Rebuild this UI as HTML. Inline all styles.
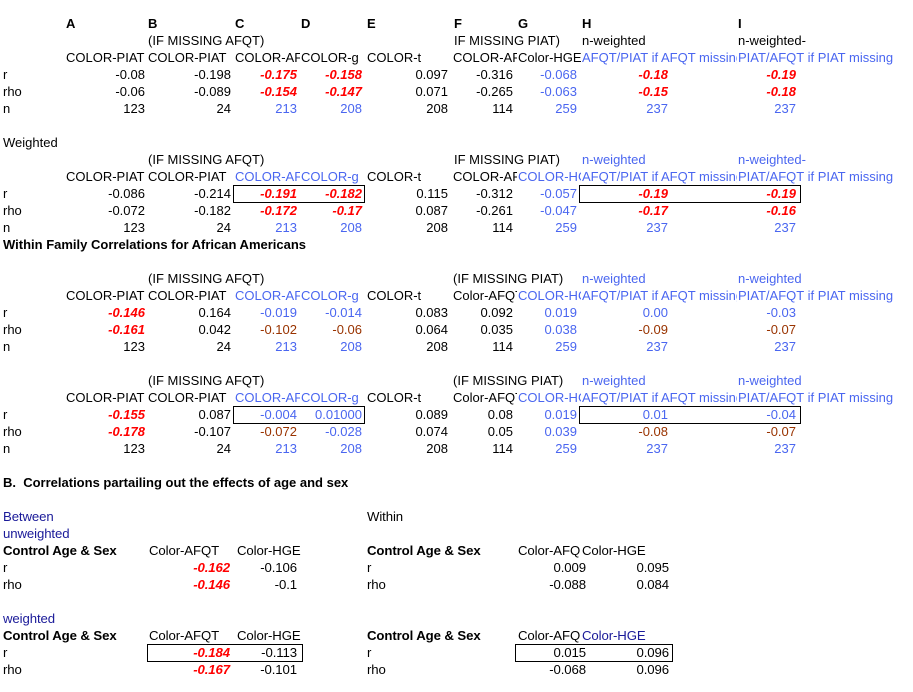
<!DOCTYPE html>
<html><head><meta charset="utf-8"><style>
body{margin:0;width:913px;height:692px;background:#fff;position:relative;overflow:hidden;font-family:"Liberation Sans",Arial,sans-serif;font-size:13px;color:#000}
.t{position:absolute;white-space:nowrap;line-height:16px}
.c{position:absolute;white-space:nowrap;line-height:16px;overflow:hidden}
.b{color:#4a66f0}.rd{color:#ff0000;font-weight:bold;font-style:italic}.br{color:#993300}.nv{color:#1a1a99}
.bo{font-weight:bold}
.box{position:absolute;border:1px solid #000;height:16px}
.n{font-size:13.2px;letter-spacing:-0.1px}
</style></head><body>
<!-- column letters -->
<div class="t bo" style="left:66px;top:16px">A</div>
<div class="t bo" style="left:148px;top:16px">B</div>
<div class="t bo" style="left:235px;top:16px">C</div>
<div class="t bo" style="left:301px;top:16px">D</div>
<div class="t bo" style="left:367px;top:16px">E</div>
<div class="t bo" style="left:454px;top:16px">F</div>
<div class="t bo" style="left:518px;top:16px">G</div>
<div class="t bo" style="left:582px;top:16px">H</div>
<div class="t bo" style="left:738px;top:16px">I</div>

<!-- Block 1 -->
<div class="t" style="left:148px;top:33px">(IF MISSING AFQT)</div>
<div class="t" style="left:454px;top:33px">IF MISSING PIAT)</div>
<div class="t" style="left:582px;top:33px">n-weighted</div>
<div class="t" style="left:738px;top:33px">n-weighted-</div>
<div class="t" style="left:66px;top:50px">COLOR-PIAT</div>
<div class="t" style="left:148px;top:50px">COLOR-PIAT</div>
<div class="c" style="left:235px;top:50px;width:65px">COLOR-AFQT</div>
<div class="t" style="left:301px;top:50px">COLOR-g</div>
<div class="t" style="left:367px;top:50px">COLOR-t</div>
<div class="c" style="left:453px;top:50px;width:64px">COLOR-AFQT</div>
<div class="c" style="left:518px;top:50px;width:63px">Color-HGE</div>
<div class="c b" style="left:582px;top:50px;width:155px">AFQT/PIAT if AFQT missing</div>
<div class="t b" style="left:738px;top:50px">PIAT/AFQT if PIAT missing</div>
<div class="t" style="left:3px;top:67px">r</div>
<div class="t" style="right:768px;top:67px">-0.08</div>
<div class="t" style="right:682px;top:67px">-0.198</div>
<div class="t rd" style="right:616px;top:67px">-0.175</div>
<div class="t rd" style="right:551px;top:67px">-0.158</div>
<div class="t" style="right:465px;top:67px">0.097</div>
<div class="t" style="right:400px;top:67px">-0.316</div>
<div class="t b" style="right:336px;top:67px">-0.068</div>
<div class="t rd" style="right:245px;top:67px">-0.18</div>
<div class="t rd" style="right:117px;top:67px">-0.19</div>
<div class="t" style="left:3px;top:84px">rho</div>
<div class="t" style="right:768px;top:84px">-0.06</div>
<div class="t" style="right:682px;top:84px">-0.089</div>
<div class="t rd" style="right:616px;top:84px">-0.154</div>
<div class="t rd" style="right:551px;top:84px">-0.147</div>
<div class="t" style="right:465px;top:84px">0.071</div>
<div class="t" style="right:400px;top:84px">-0.265</div>
<div class="t b" style="right:336px;top:84px">-0.063</div>
<div class="t rd" style="right:245px;top:84px">-0.15</div>
<div class="t rd" style="right:117px;top:84px">-0.18</div>
<div class="t" style="left:3px;top:101px">n</div>
<div class="t" style="right:768px;top:101px">123</div>
<div class="t" style="right:682px;top:101px">24</div>
<div class="t b" style="right:616px;top:101px">213</div>
<div class="t b" style="right:551px;top:101px">208</div>
<div class="t" style="right:465px;top:101px">208</div>
<div class="t" style="right:400px;top:101px">114</div>
<div class="t b" style="right:336px;top:101px">259</div>
<div class="t b" style="right:245px;top:101px">237</div>
<div class="t b" style="right:117px;top:101px">237</div>

<!-- Block 2 Weighted -->
<div class="t" style="left:3px;top:135px">Weighted</div>
<div class="t" style="left:148px;top:152px">(IF MISSING AFQT)</div>
<div class="t" style="left:454px;top:152px">IF MISSING PIAT)</div>
<div class="t b" style="left:582px;top:152px">n-weighted</div>
<div class="t b" style="left:738px;top:152px">n-weighted-</div>
<div class="t" style="left:66px;top:169px">COLOR-PIAT</div>
<div class="t" style="left:148px;top:169px">COLOR-PIAT</div>
<div class="c b" style="left:235px;top:169px;width:65px">COLOR-AFQT</div>
<div class="t b" style="left:301px;top:169px">COLOR-g</div>
<div class="t" style="left:367px;top:169px">COLOR-t</div>
<div class="c" style="left:453px;top:169px;width:64px">COLOR-AFQT</div>
<div class="c b" style="left:518px;top:169px;width:63px">COLOR-HGE</div>
<div class="c b" style="left:582px;top:169px;width:155px">AFQT/PIAT if AFQT missing</div>
<div class="t b" style="left:738px;top:169px">PIAT/AFQT if PIAT missing</div>
<div class="box" style="left:233px;top:185px;width:130px"></div>
<div class="box" style="left:579px;top:185px;width:220px"></div>
<div class="t" style="left:3px;top:186px">r</div>
<div class="t" style="right:768px;top:186px">-0.086</div>
<div class="t" style="right:682px;top:186px">-0.214</div>
<div class="t rd" style="right:616px;top:186px">-0.191</div>
<div class="t rd" style="right:551px;top:186px">-0.182</div>
<div class="t" style="right:465px;top:186px">0.115</div>
<div class="t" style="right:400px;top:186px">-0.312</div>
<div class="t b" style="right:336px;top:186px">-0.057</div>
<div class="t rd" style="right:245px;top:186px">-0.19</div>
<div class="t rd" style="right:117px;top:186px">-0.19</div>
<div class="t" style="left:3px;top:203px">rho</div>
<div class="t" style="right:768px;top:203px">-0.072</div>
<div class="t" style="right:682px;top:203px">-0.182</div>
<div class="t rd" style="right:616px;top:203px">-0.172</div>
<div class="t rd" style="right:551px;top:203px">-0.17</div>
<div class="t" style="right:465px;top:203px">0.087</div>
<div class="t" style="right:400px;top:203px">-0.261</div>
<div class="t b" style="right:336px;top:203px">-0.047</div>
<div class="t rd" style="right:245px;top:203px">-0.17</div>
<div class="t rd" style="right:117px;top:203px">-0.16</div>
<div class="t" style="left:3px;top:220px">n</div>
<div class="t" style="right:768px;top:220px">123</div>
<div class="t" style="right:682px;top:220px">24</div>
<div class="t b" style="right:616px;top:220px">213</div>
<div class="t b" style="right:551px;top:220px">208</div>
<div class="t" style="right:465px;top:220px">208</div>
<div class="t" style="right:400px;top:220px">114</div>
<div class="t b" style="right:336px;top:220px">259</div>
<div class="t b" style="right:245px;top:220px">237</div>
<div class="t b" style="right:117px;top:220px">237</div>

<!-- Within -->
<div class="t bo" style="left:3px;top:237px">Within Family Correlations for African Americans</div>
<div class="t" style="left:148px;top:271px">(IF MISSING AFQT)</div>
<div class="t" style="left:453px;top:271px">(IF MISSING PIAT)</div>
<div class="t b" style="left:582px;top:271px">n-weighted</div>
<div class="t b" style="left:738px;top:271px">n-weighted</div>
<div class="t" style="left:66px;top:288px">COLOR-PIAT</div>
<div class="t" style="left:148px;top:288px">COLOR-PIAT</div>
<div class="c b" style="left:235px;top:288px;width:65px">COLOR-AFQT</div>
<div class="t b" style="left:301px;top:288px">COLOR-g</div>
<div class="t" style="left:367px;top:288px">COLOR-t</div>
<div class="c" style="left:453px;top:288px;width:64px">Color-AFQT</div>
<div class="c b" style="left:518px;top:288px;width:63px">COLOR-HGE</div>
<div class="c b" style="left:582px;top:288px;width:155px">AFQT/PIAT if AFQT missing</div>
<div class="t b" style="left:738px;top:288px">PIAT/AFQT if PIAT missing</div>
<div class="t" style="left:3px;top:305px">r</div>
<div class="t rd" style="right:768px;top:305px">-0.146</div>
<div class="t" style="right:682px;top:305px">0.164</div>
<div class="t b" style="right:616px;top:305px">-0.019</div>
<div class="t b" style="right:551px;top:305px">-0.014</div>
<div class="t" style="right:465px;top:305px">0.083</div>
<div class="t" style="right:400px;top:305px">0.092</div>
<div class="t b" style="right:336px;top:305px">0.019</div>
<div class="t b" style="right:245px;top:305px">0.00</div>
<div class="t b" style="right:117px;top:305px">-0.03</div>
<div class="t" style="left:3px;top:322px">rho</div>
<div class="t rd" style="right:768px;top:322px">-0.161</div>
<div class="t" style="right:682px;top:322px">0.042</div>
<div class="t br" style="right:616px;top:322px">-0.102</div>
<div class="t br" style="right:551px;top:322px">-0.06</div>
<div class="t" style="right:465px;top:322px">0.064</div>
<div class="t" style="right:400px;top:322px">0.035</div>
<div class="t b" style="right:336px;top:322px">0.038</div>
<div class="t br" style="right:245px;top:322px">-0.09</div>
<div class="t br" style="right:117px;top:322px">-0.07</div>
<div class="t" style="left:3px;top:339px">n</div>
<div class="t" style="right:768px;top:339px">123</div>
<div class="t" style="right:682px;top:339px">24</div>
<div class="t b" style="right:616px;top:339px">213</div>
<div class="t b" style="right:551px;top:339px">208</div>
<div class="t" style="right:465px;top:339px">208</div>
<div class="t" style="right:400px;top:339px">114</div>
<div class="t b" style="right:336px;top:339px">259</div>
<div class="t b" style="right:245px;top:339px">237</div>
<div class="t b" style="right:117px;top:339px">237</div>

<!-- Within weighted -->
<div class="t" style="left:148px;top:373px">(IF MISSING AFQT)</div>
<div class="t" style="left:453px;top:373px">(IF MISSING PIAT)</div>
<div class="t b" style="left:582px;top:373px">n-weighted</div>
<div class="t b" style="left:738px;top:373px">n-weighted</div>
<div class="t" style="left:66px;top:390px">COLOR-PIAT</div>
<div class="t" style="left:148px;top:390px">COLOR-PIAT</div>
<div class="c b" style="left:235px;top:390px;width:65px">COLOR-AFQT</div>
<div class="t b" style="left:301px;top:390px">COLOR-g</div>
<div class="t" style="left:367px;top:390px">COLOR-t</div>
<div class="c" style="left:453px;top:390px;width:64px">Color-AFQT</div>
<div class="c b" style="left:518px;top:390px;width:63px">COLOR-HGE</div>
<div class="c b" style="left:582px;top:390px;width:155px">AFQT/PIAT if AFQT missing</div>
<div class="t b" style="left:738px;top:390px">PIAT/AFQT if PIAT missing</div>
<div class="box" style="left:233px;top:406px;width:130px"></div>
<div class="box" style="left:579px;top:406px;width:220px"></div>
<div class="t" style="left:3px;top:407px">r</div>
<div class="t rd" style="right:768px;top:407px">-0.155</div>
<div class="t" style="right:682px;top:407px">0.087</div>
<div class="t b" style="right:616px;top:407px">-0.004</div>
<div class="t b" style="right:551px;top:407px">0.01000</div>
<div class="t" style="right:465px;top:407px">0.089</div>
<div class="t" style="right:400px;top:407px">0.08</div>
<div class="t b" style="right:336px;top:407px">0.019</div>
<div class="t b" style="right:245px;top:407px">0.01</div>
<div class="t b" style="right:117px;top:407px">-0.04</div>
<div class="t" style="left:3px;top:424px">rho</div>
<div class="t rd" style="right:768px;top:424px">-0.178</div>
<div class="t" style="right:682px;top:424px">-0.107</div>
<div class="t br" style="right:616px;top:424px">-0.072</div>
<div class="t b" style="right:551px;top:424px">-0.028</div>
<div class="t" style="right:465px;top:424px">0.074</div>
<div class="t" style="right:400px;top:424px">0.05</div>
<div class="t b" style="right:336px;top:424px">0.039</div>
<div class="t br" style="right:245px;top:424px">-0.08</div>
<div class="t br" style="right:117px;top:424px">-0.07</div>
<div class="t" style="left:3px;top:441px">n</div>
<div class="t" style="right:768px;top:441px">123</div>
<div class="t" style="right:682px;top:441px">24</div>
<div class="t b" style="right:616px;top:441px">213</div>
<div class="t b" style="right:551px;top:441px">208</div>
<div class="t" style="right:465px;top:441px">208</div>
<div class="t" style="right:400px;top:441px">114</div>
<div class="t b" style="right:336px;top:441px">259</div>
<div class="t b" style="right:245px;top:441px">237</div>
<div class="t b" style="right:117px;top:441px">237</div>

<!-- Section B -->
<div class="t bo" style="left:3px;top:475px">B.&nbsp; Correlations partailing out the effects of age and sex</div>
<div class="t nv n" style="left:3px;top:509px">Between</div>
<div class="t n" style="left:367px;top:509px">Within</div>
<div class="t nv n" style="left:3px;top:526px">unweighted</div>
<div class="t bo n" style="left:3px;top:543px">Control Age &amp; Sex</div>
<div class="t n" style="left:149px;top:543px">Color-AFQT</div>
<div class="t n" style="left:237px;top:543px">Color-HGE</div>
<div class="t bo n" style="left:367px;top:543px">Control Age &amp; Sex</div>
<div class="t n" style="left:518px;top:543px">Color-AFQ</div>
<div class="t n" style="left:582px;top:543px">Color-HGE</div>
<div class="t n" style="left:3px;top:560px">r</div>
<div class="t rd n" style="right:683px;top:560px">-0.162</div>
<div class="t n" style="right:616px;top:560px">-0.106</div>
<div class="t n" style="left:367px;top:560px">r</div>
<div class="t n" style="right:327px;top:560px">0.009</div>
<div class="t n" style="right:244px;top:560px">0.095</div>
<div class="t n" style="left:3px;top:577px">rho</div>
<div class="t rd n" style="right:683px;top:577px">-0.146</div>
<div class="t n" style="right:616px;top:577px">-0.1</div>
<div class="t n" style="left:367px;top:577px">rho</div>
<div class="t n" style="right:327px;top:577px">-0.088</div>
<div class="t n" style="right:244px;top:577px">0.084</div>
<div class="t nv n" style="left:3px;top:611px">weighted</div>
<div class="t bo n" style="left:3px;top:628px">Control Age &amp; Sex</div>
<div class="t n" style="left:149px;top:628px">Color-AFQT</div>
<div class="t n" style="left:237px;top:628px">Color-HGE</div>
<div class="t bo n" style="left:367px;top:628px">Control Age &amp; Sex</div>
<div class="t n" style="left:518px;top:628px">Color-AFQ</div>
<div class="t nv n" style="left:582px;top:628px">Color-HGE</div>
<div class="box" style="left:147px;top:644px;width:154px"></div>
<div class="box" style="left:515px;top:644px;width:156px"></div>
<div class="t n" style="left:3px;top:645px">r</div>
<div class="t rd n" style="right:683px;top:645px">-0.184</div>
<div class="t n" style="right:616px;top:645px">-0.113</div>
<div class="t n" style="left:367px;top:645px">r</div>
<div class="t n" style="right:327px;top:645px">0.015</div>
<div class="t n" style="right:244px;top:645px">0.096</div>
<div class="t n" style="left:3px;top:662px">rho</div>
<div class="t rd n" style="right:683px;top:662px">-0.167</div>
<div class="t n" style="right:616px;top:662px">-0.101</div>
<div class="t n" style="left:367px;top:662px">rho</div>
<div class="t n" style="right:327px;top:662px">-0.068</div>
<div class="t n" style="right:244px;top:662px">0.096</div>
</body></html>
